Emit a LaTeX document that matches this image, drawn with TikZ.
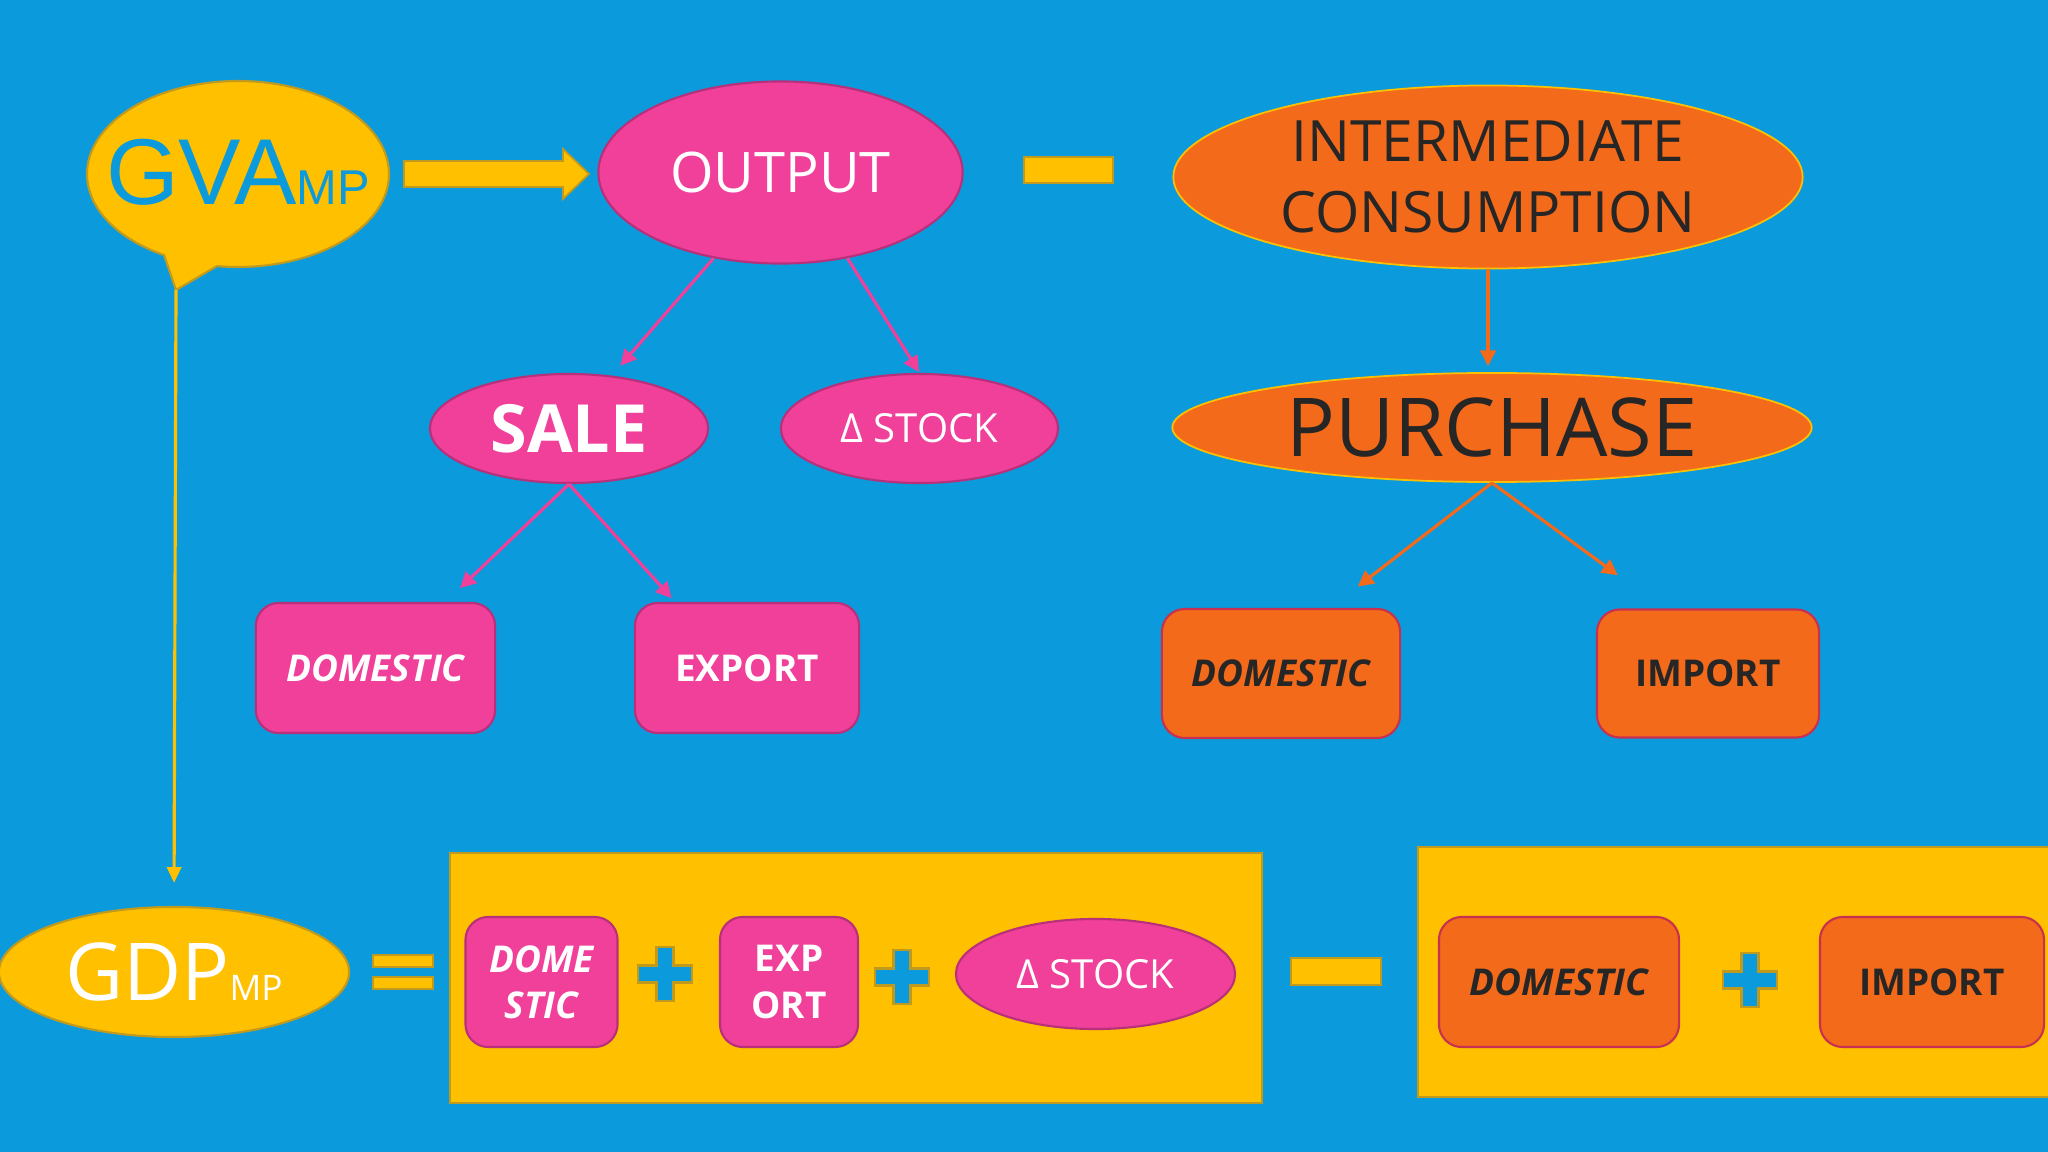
\documentclass[tikz,border=0pt]{standalone}
\usepackage{fontspec}
\setmainfont{Open Sans}
\newfontfamily\arialf{Liberation Sans}
\usetikzlibrary{shapes.geometric,arrows.meta,calc}
\definecolor{bg}{HTML}{0B9ADC}
\definecolor{yel}{HTML}{FFC000}
\definecolor{yeld}{HTML}{C09A1E}
\definecolor{pnk}{HTML}{F0409A}
\definecolor{pnkd}{HTML}{B8307A}
\definecolor{org}{HTML}{F36A1B}
\definecolor{orgd}{HTML}{C8304F}
\definecolor{dtxt}{HTML}{262626}
\newcommand{\fsz}[2]{\fontsize{#1pt}{#2pt}\selectfont}
\begin{document}
\begin{tikzpicture}[x=0.01cm,y=-0.01cm,
  pell/.style={ellipse, fill=pnk, draw=pnkd, line width=0.6pt, inner sep=0pt, text=white},
  oell/.style={ellipse, fill=org, draw=yel, line width=0.5pt, inner sep=0pt, text=dtxt},
  yell/.style={ellipse, fill=yel, draw=yeld, line width=0.6pt, inner sep=0pt, text=white},
  pbox/.style={rectangle, rounded corners=6.5pt, fill=pnk, draw=pnkd, line width=0.6pt, inner sep=0pt, text=white, font=\fsz{10.5}{13}\bfseries},
  obox/.style={rectangle, rounded corners=6.5pt, fill=org, draw=orgd, line width=0.6pt, inner sep=0pt, text=dtxt, font=\fsz{10.5}{13}\bfseries},
  ybar/.style={fill=yel, draw=yeld, line width=0.5pt},
  parr/.style={draw=pnk, line width=0.9pt, -{Triangle[length=4.5pt,width=4.5pt]}},
  oarr/.style={draw=org, line width=0.9pt, -{Triangle[length=4.5pt,width=4.5pt]}},
  yarr/.style={draw=yel, line width=0.9pt, -{Triangle[length=4.5pt,width=4pt]}},
  plussign/.pic={\draw[fill=bg, draw=yeld, line width=0.6pt] (-27,-8.5) -- (-8.5,-8.5) -- (-8.5,-27) -- (8.5,-27) -- (8.5,-8.5) -- (27,-8.5) -- (27,8.5) -- (8.5,8.5) -- (8.5,27) -- (-8.5,27) -- (-8.5,8.5) -- (-27,8.5) -- cycle;}
]
\useasboundingbox (0,0) rectangle (2048,1152);
\clip (0,0) rectangle (2048,1152);
\fill[bg] (0,0) rectangle (2048,1152);

% GVA speech bubble
\draw[fill=yel, draw=yeld, line width=0.6pt] (164.1,255.1) arc[start angle=119.3, end angle=458, x radius=151, y radius=93] -- (176,290) -- cycle;
\node[text=bg, inner sep=0pt] (gva) at (238,172) {\arialf\fsz{26.6}{28}GVA\fsz{13.9}{14}MP};
\coordinate (gtip) at (176,290);

% thick arrow GVA -> OUTPUT
\draw[fill=yel, draw=yeld, line width=0.5pt] (404,161) -- (563,161) -- (563,149) -- (589,174) -- (563,199) -- (563,187) -- (404,187) -- cycle;

% top row
\node[pell, minimum width=3.64cm, minimum height=1.82cm, font=\fsz{15.9}{18}] (out) at (780.5,172.5) {OUTPUT};
\draw[ybar] (1024,157) rectangle (1113,183);
\node[oell, minimum width=6.29cm, minimum height=1.83cm, align=center, font=\fsz{16.2}{20.2}] (ic) at (1488,177) {INTERMEDIATE\\CONSUMPTION};

% second row
\node[pell, minimum width=2.78cm, minimum height=1.09cm, font=\fsz{18.9}{20}\bfseries] (sale) at (569,428.5) {SALE};
\node[pell, minimum width=2.77cm, minimum height=1.09cm, font=\fsz{11.4}{13}] (stock) at (919.5,428.5) {Δ STOCK};
\node[oell, minimum width=6.39cm, minimum height=1.09cm, font=\fsz{23.1}{24}] (pur) at (1492,427.5) {PURCHASE};

% third row
\node[pbox, minimum width=2.39cm, minimum height=1.30cm] (dom1) at (375.5,668) {\itshape DOMESTIC};
\node[pbox, minimum width=2.24cm, minimum height=1.30cm] (exp1) at (747,668) {EXPORT};
\node[obox, minimum width=2.38cm, minimum height=1.29cm] (dom2) at (1281,673.5) {\itshape DOMESTIC};
\node[obox, minimum width=2.22cm, minimum height=1.28cm] (imp2) at (1708,673.5) {IMPORT};

% connectors
\draw[parr, shorten >=0.13cm] (out.-128) -- (sale.51);
\draw[parr, shorten >=0.01cm] (out.-52) -- (stock.north);
\draw[parr, shorten >=0.2cm] (sale.south) -- ($(dom1.north)+(70,0)$);
\draw[parr, shorten >=0.05cm] (sale.south) -- ($(exp1.north)+(-72,0)$);
\draw[oarr, shorten >=0.06cm] (ic.south) -- (ic.south |- pur.north);
\draw[oarr, shorten >=0.35cm] (pur.south) -- ($(dom2.north)+(49,0)$);
\draw[oarr, shorten >=0.56cm] (pur.south) -- ($(imp2.north)+(-45,0)$);

% bottom row
\node[yell, minimum width=3.50cm, minimum height=1.30cm] (gdp) at (174,972) {\fsz{22.7}{24}GDP\fsz{10}{10}MP};
\draw[yarr, shorten >=0.23cm] (gtip) -- (gdp.north);
\draw[ybar] (373,955) rectangle (433,967);
\draw[ybar] (373,977) rectangle (433,989);
\draw[ybar] (450,853) rectangle (1262,1103);
\node[pbox, minimum width=1.52cm, minimum height=1.30cm, align=center, font=\fsz{10.5}{13.1}\bfseries\itshape] (dom3) at (541.5,982) {DOME\\STIC};
\pic at (665,974) {plussign};
\node[pbox, minimum width=1.38cm, minimum height=1.30cm, align=center, font=\fsz{10.5}{13.1}\bfseries] (exp3) at (789,982) {EXP\\ORT};
\pic at (902,977) {plussign};
\node[pell, minimum width=2.79cm, minimum height=1.10cm, font=\fsz{11.4}{13}] (stock2) at (1095.5,974) {Δ STOCK};
\draw[ybar] (1291,958) rectangle (1381,985);
\draw[ybar] (1418,847) rectangle (2070,1097);
\node[obox, minimum width=2.40cm, minimum height=1.30cm] (dom4) at (1559,982) {\itshape DOMESTIC};
\pic at (1750,980) {plussign};
\node[obox, minimum width=2.24cm, minimum height=1.30cm] (imp4) at (1932,982) {IMPORT};
\end{tikzpicture}
\end{document}
